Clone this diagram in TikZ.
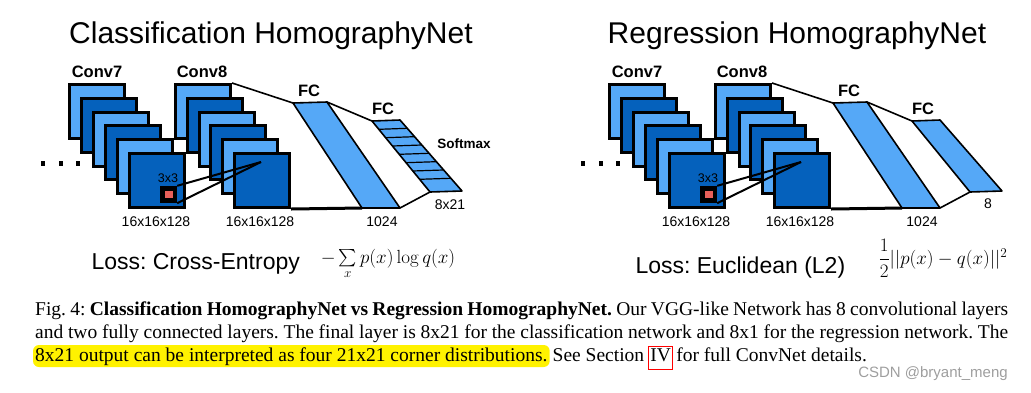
\documentclass[tikz,border=0pt]{standalone}
\usepackage{fix-cm}
\usepackage{amsmath}
\usepackage[no-math]{fontspec}
\setmainfont{Liberation Serif}
\setsansfont{Liberation Sans}
\usetikzlibrary{calc,backgrounds}
\definecolor{lightb}{HTML}{55A8F7}
\definecolor{darkb}{HTML}{0561BC}
\definecolor{kred}{HTML}{E8605A}
\frenchspacing

\begin{document}
\begin{tikzpicture}[x=1pt,y=-1pt,
   sq/.style={draw,line width=3pt,minimum width=55pt,minimum height=54pt,inner sep=0pt},
   lb/.style={sq,fill=lightb},
   db/.style={sq,fill=darkb},
   fc/.style={draw,line width=1.6pt,fill=lightb,line join=round},
   ln/.style={line width=1.6pt},
   dot/.style={fill=black,minimum width=3.5pt,minimum height=5pt,inner sep=0pt},
   ttl/.style={font=\sffamily\fontsize{30}{36}\selectfont,anchor=base},
   lyr/.style={font=\sffamily\bfseries\fontsize{16.5}{20}\selectfont},
   dim/.style={font=\sffamily\fontsize{14}{17}\selectfont},
   loss/.style={font=\sffamily\fontsize{23}{28}\selectfont,anchor=base west},
   eq/.style={font=\fontsize{19}{23}\selectfont,anchor=base,inner sep=0pt},
   captxt/.style={font=\fontsize{19.5}{23}\selectfont,anchor=base west,inner sep=0pt}]
   \useasboundingbox (0,0) rectangle (1031,392);

   % classification net
   \node[ttl] (t1) at (271,43) {Classification HomographyNet};
   \node[dot] (d1) at (43,163) {};
   \node[dot] (d2) at (61,163) {};
   \node[dot] (d3) at (78,163) {};
   \node[lb] (a1) at (97,111.5)    {};
   \node[db] (a2) at (109,125.3)   {};
   \node[lb] (a3) at (121,139.1)   {};
   \node[db] (a4) at (133,152.9)   {};
   \node[lb] (a5) at (145,166.7)   {};
   \node[db] (a6) at (157,180.5)   {};
   \node[lb] (b1) at (203,111.5)   {};
   \node[db] (b2) at (214.8,125.3) {};
   \node[lb] (b3) at (226.6,139.1) {};
   \node[db] (b4) at (238.4,152.9) {};
   \node[lb] (b5) at (250.2,166.7) {};
   \node[db] (b6) at (262,180.5)   {};
   \node[lyr] (c7) at (97,72)  {Conv7};
   \node[lyr] (c8) at (202,72) {Conv8};
   \node[dim] (s7) at (156,222) {16x16x128};
   \node[dim] (s8) at (260,222) {16x16x128};
   \node[fill=black,minimum size=17pt,inner sep=0pt] (k) at (168.5,194.5) {};
   \node[fill=kred,minimum width=8pt,minimum height=7pt,inner sep=0pt] (kr) at (k) {};
   \node[font=\sffamily\fontsize{12.5}{15}\selectfont] (kl) at (168,178) {3x3};
   \coordinate (kt) at (261,162);
   \draw[line width=2pt] (k.north east) -- (kt);
   \draw[line width=2pt] (k.south east) -- (kt);
   \coordinate (p1) at (293,103);
   \coordinate (p2) at (327,102);
   \coordinate (p3) at (400,208);
   \coordinate (p4) at (362,208);
   \coordinate (q1) at (372,121);
   \coordinate (q2) at (400,120);
   \coordinate (q3) at (462,191);
   \coordinate (q4) at (430,192);
   \draw[ln] (b1.north east) -- (p1);
   \draw[line width=3pt] (b6.south east) -- (p4);
   \draw[fc] (p1) -- (p2) -- (p3) -- (p4) -- cycle;
   \draw[ln] (p2) -- (q1);
   \draw[ln] (p3) -- (q4);
   \draw[fc] (q1) -- (q2) -- (q3) -- (q4) -- cycle;
   \draw[line width=1.2pt] ($(q1)!.117!(q4)$) -- ($(q2)!.117!(q3)$);
   \draw[line width=1.2pt] ($(q1)!.235!(q4)$) -- ($(q2)!.235!(q3)$);
   \draw[line width=1.2pt] ($(q1)!.352!(q4)$) -- ($(q2)!.352!(q3)$);
   \draw[line width=1.2pt] ($(q1)!.469!(q4)$) -- ($(q2)!.469!(q3)$);
   \draw[line width=1.2pt] ($(q1)!.587!(q4)$) -- ($(q2)!.587!(q3)$);
   \draw[line width=1.2pt] ($(q1)!.704!(q4)$) -- ($(q2)!.704!(q3)$);
   \draw[line width=1.2pt] ($(q1)!.821!(q4)$) -- ($(q2)!.821!(q3)$);
   \node[lyr] (f1) at (309,91)  {FC};
   \node[lyr] (f2) at (383,109) {FC};
   \node[lyr,font=\sffamily\bfseries\fontsize{13.5}{16}\selectfont] (sm) at (464,144) {Softmax};
   \node[dim] (n1) at (382,222) {1024};
   \node[dim] (n2) at (450,205) {8x21};
   \node[loss] (l1) at (88,269) {Loss: Cross-Entropy};
   \node[eq] (e1) at (388,263) {$-\sum\limits_x p(x)\log q(x)$};

   % regression net
   \node[ttl] (t2) at (797,43) {Regression HomographyNet};
   \begin{scope}[xshift=540pt]
   \node[dot] (g1) at (43,163) {};
   \node[dot] (g2) at (61,163) {};
   \node[dot] (g3) at (78,163) {};
   \node[lb] (h1) at (97,111.5)    {};
   \node[db] (h2) at (109,125.3)   {};
   \node[lb] (h3) at (121,139.1)   {};
   \node[db] (h4) at (133,152.9)   {};
   \node[lb] (h5) at (145,166.7)   {};
   \node[db] (h6) at (157,180.5)   {};
   \node[lb] (i1) at (203,111.5)   {};
   \node[db] (i2) at (214.8,125.3) {};
   \node[lb] (i3) at (226.6,139.1) {};
   \node[db] (i4) at (238.4,152.9) {};
   \node[lb] (i5) at (250.2,166.7) {};
   \node[db] (i6) at (262,180.5)   {};
   \node[lyr] (r7) at (97,72)  {Conv7};
   \node[lyr] (r8) at (202,72) {Conv8};
   \node[dim] (z7) at (156,222) {16x16x128};
   \node[dim] (z8) at (260,222) {16x16x128};
   \node[fill=black,minimum size=17pt,inner sep=0pt] (m) at (168.5,194.5) {};
   \node[fill=kred,minimum width=8pt,minimum height=7pt,inner sep=0pt] (mr) at (m) {};
   \node[font=\sffamily\fontsize{12.5}{15}\selectfont] (ml) at (168,178) {3x3};
   \coordinate (mt) at (261,162);
   \draw[line width=2pt] (m.north east) -- (mt);
   \draw[line width=2pt] (m.south east) -- (mt);
   \coordinate (u1) at (293,103);
   \coordinate (u2) at (327,102);
   \coordinate (u3) at (400,208);
   \coordinate (u4) at (362,208);
   \coordinate (v1) at (372,121);
   \coordinate (v2) at (400,120);
   \coordinate (v3) at (462,191);
   \coordinate (v4) at (430,192);
   \draw[ln] (i1.north east) -- (u1);
   \draw[line width=3pt] (i6.south east) -- (u4);
   \draw[fc] (u1) -- (u2) -- (u3) -- (u4) -- cycle;
   \draw[ln] (u2) -- (v1);
   \draw[ln] (u3) -- (v4);
   \draw[fc] (v1) -- (v2) -- (v3) -- (v4) -- cycle;
   \node[lyr] (w1) at (309,91)  {FC};
   \node[lyr] (w2) at (383,109) {FC};
   \node[dim] (o1) at (382,222) {1024};
   \node[dim] (o2) at (448,204) {8};
   \end{scope}
   \node[loss] (l2) at (632,273) {Loss: Euclidean (L2)};
   \node[eq] (e2) at (943,264) {$\dfrac{1}{2}||p(x)-q(x)||^2$};

   % caption
   \node[captxt] (c1) at (35,315.7) {\makebox[973pt][s]{Fig. 4: \textbf{Classification HomographyNet vs Regression HomographyNet.} Our VGG-like Network has 8 convolutional layers}};
   \node[captxt] (c2) at (35,338.5) {\makebox[973pt][s]{and two fully connected layers. The final layer is 8x21 for the classification network and 8x1 for the regression network. The}};
   \node[captxt] (c3) at (35,361) {8x21 output can be interpreted as four 21x21 corner distributions.};
   \node[captxt] (c4) at ([xshift=4.8pt]c3.base east) {See Section};
   \node[captxt,draw=red,line width=0.8pt,inner xsep=2pt,inner ysep=3pt,text height=12pt,text depth=5pt] (iv) at ([xshift=3.5pt]c4.base east) {IV};
   \node[captxt] (c5) at ([xshift=2.8pt]iv.base east) {for full ConvNet details.};
   \begin{scope}[on background layer]
   \fill[yellow,rounded corners=6pt] ($(c3.base west)+(-2,-16)$) rectangle ($(c3.base east)+(2,6)$);
   \end{scope}
   \node[font=\sffamily\fontsize{15}{18}\selectfont,text=black!38] (wm) at (933,374) {CSDN @bryant\_meng};
\end{tikzpicture}
\end{document}
